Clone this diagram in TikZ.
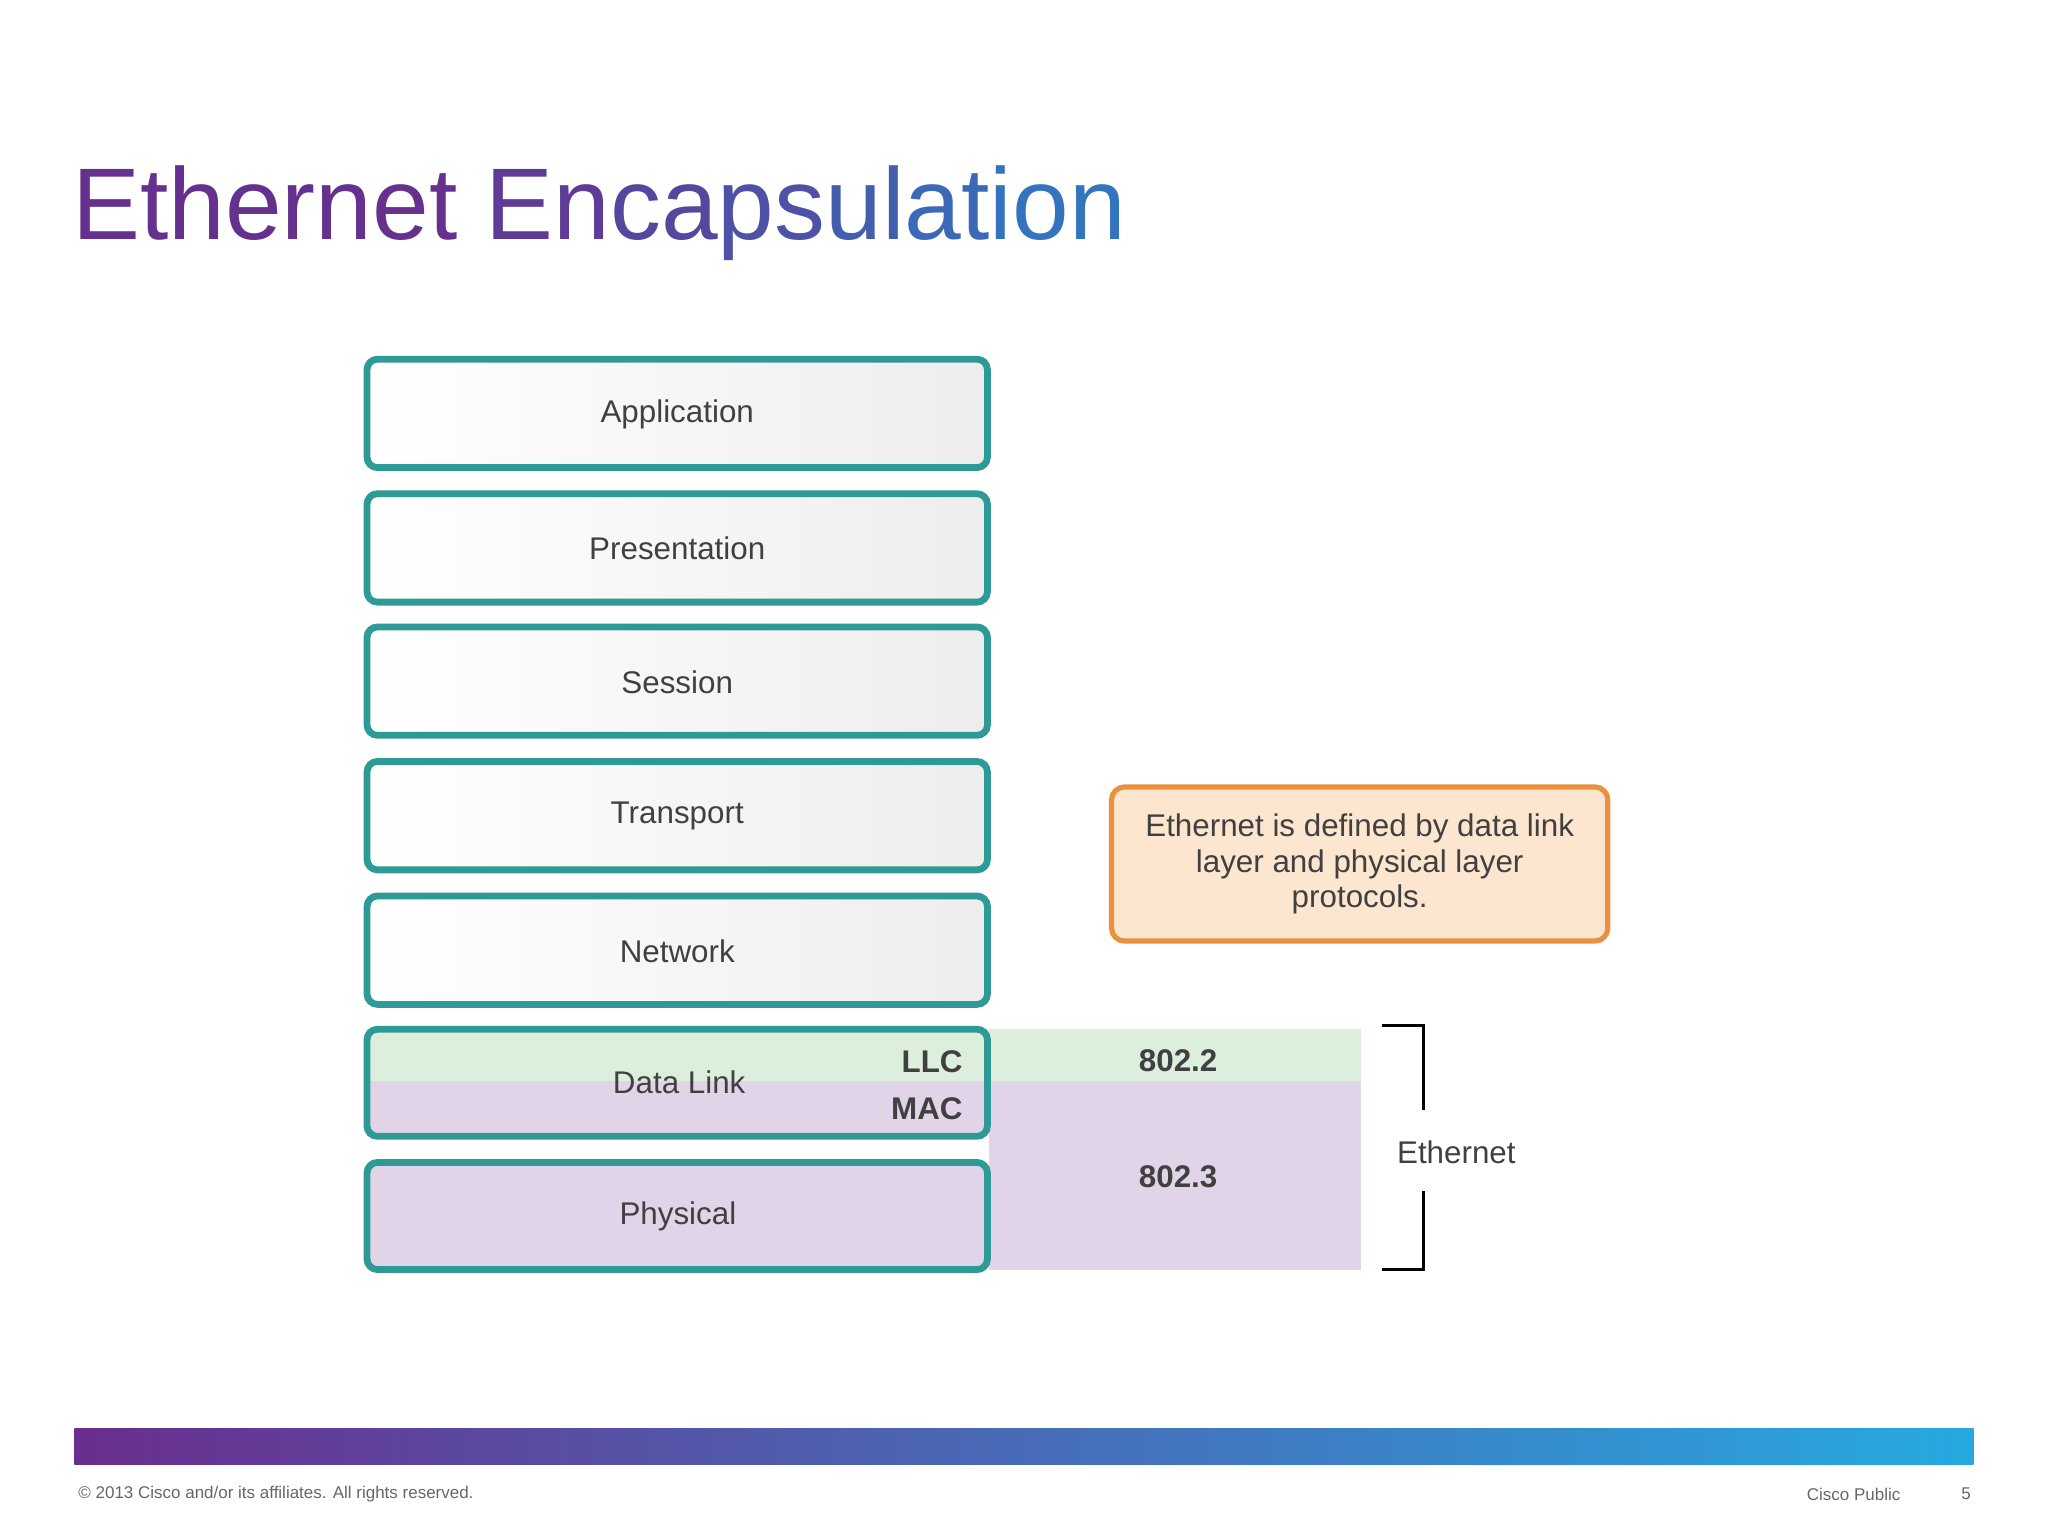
\documentclass[tikz,border=0pt]{standalone}
\usepackage{fontspec}
\setmainfont{Liberation Sans}
\definecolor{tealb}{HTML}{2E9A96}
\definecolor{llcg}{HTML}{DCEEDC}
\definecolor{macl}{HTML}{E2D4E8}
\definecolor{peach}{HTML}{FDE6CF}
\definecolor{orb}{HTML}{E8913F}
\definecolor{tpurple}{HTML}{66308E}
\definecolor{tblue}{HTML}{2E7CC4}
\definecolor{bpurple}{HTML}{6A2E8E}
\definecolor{bblue}{HTML}{1E3F96}
\definecolor{bcyan}{HTML}{26A9E0}
\begin{document}
\begin{tikzpicture}[x=0.5pt,y=-0.5pt,
  layer/.style={draw=tealb,line width=2.6pt,rounded corners=4pt,left color=white,right color=gray!14},
  ltext/.style={font=\fontsize{12}{14}\selectfont,text=black!75},
  btext/.style={font=\bfseries\fontsize{12}{14}\selectfont,text=black!75}]
\useasboundingbox (0,0) rectangle (1568,1176);
% title
\node[anchor=base west,inner sep=0,font=\fontsize{39}{42}\selectfont] (title) at (55,183)
 {\textcolor{tpurple}{Ethernet} \textcolor{tpurple!85!tblue}{En}\textcolor{tpurple!70!tblue}{ca}\textcolor{tpurple!55!tblue}{ps}\textcolor{tpurple!40!tblue}{ul}\textcolor{tpurple!25!tblue}{at}\textcolor{tpurple!10!tblue}{ion}};
% bands
\fill[llcg] (757,788) rectangle (1042,828);
\fill[macl] (757,828) rectangle (1042,972);
% layers
\foreach \n/\t/\y in {app/Application/275,pres/Presentation/378,ses/Session/480,tra/Transport/583,net/Network/686}{
  \draw[layer] (281,\y) rectangle (756,\y+83);
  \node[ltext] (\n) at (518.5,\y+42) {\t};
}
\fill[llcg] (281,788) rectangle (756,828);
\fill[macl] (281,828) rectangle (756,870);
\draw[draw=tealb,line width=2.6pt,rounded corners=4pt] (281,788) rectangle (756,870);
\node[ltext] (dl) at (520,829) {Data Link};
\node[btext,anchor=east] (llc) at (744,813) {LLC};
\node[btext,anchor=east] (mac) at (744,849) {MAC};
\draw[draw=tealb,line width=2.6pt,rounded corners=4pt,fill=macl] (281,890) rectangle (756,972);
\node[ltext] (phy) at (519,931) {Physical};
\node[btext] (s8022) at (902,812) {802.2};
\node[btext] (s8023) at (902,901) {802.3};
% bracket
\coordinate (bt) at (1058,785);
\coordinate (bb) at (1058,972);
\draw[line width=1pt] (bt) -- (1090,785) -- (1090,850);
\draw[line width=1pt] (1090,912) -- (1090,972) -- (bb);
\node[ltext] (eth) at (1115,882) {Ethernet};
% note
\node[draw=orb,line width=2pt,rounded corners=5pt,fill=peach,minimum width=190pt,minimum height=59pt,align=center,font=\fontsize{12}{13.5}\selectfont,text=black!75] (note) at (1041,661.5)
 {Ethernet is defined by data link\\layer and physical layer\\protocols.};
% bottom bar
\shade[left color=bpurple,middle color=bblue,right color=bcyan] (57,1094) rectangle (1511,1121);
\node[anchor=west,font=\fontsize{6.5}{7}\selectfont,text=black!60] (copy) at (53,1144) {© 2013 Cisco and/or its affiliates. All rights reserved.};
\node[anchor=east,font=\fontsize{6.5}{7}\selectfont,text=black!60] (pub) at (1462,1144) {Cisco Public};
\node[anchor=east,font=\fontsize{6.5}{7}\selectfont,text=black!60] (pg) at (1516,1144) {5};
\end{tikzpicture}
\end{document}
